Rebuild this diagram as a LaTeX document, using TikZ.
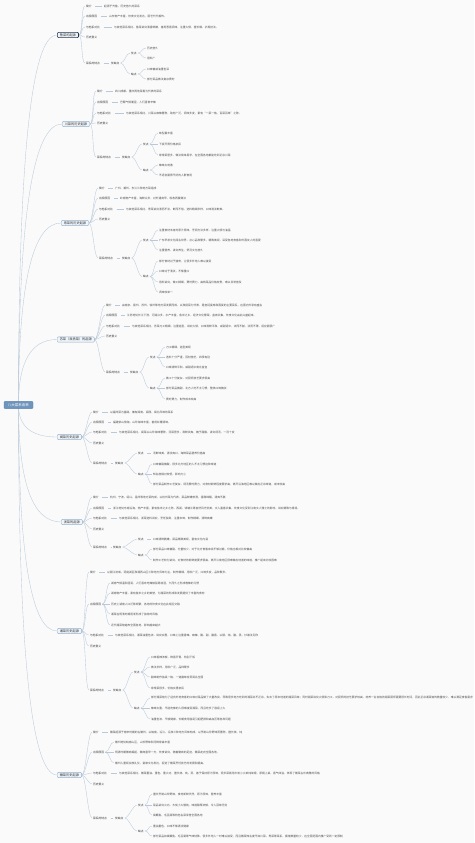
\documentclass[tikz,border=0pt]{standalone}
\usepackage{fontspec}
\setmainfont{Noto Sans CJK SC}
\usetikzlibrary{calc}
\definecolor{bgc}{HTML}{FAFAFA}
\definecolor{lnc}{HTML}{B9C9D9}
\definecolor{rootf}{HTML}{6F95BD}
\definecolor{rootb}{HTML}{5C84AE}
\definecolor{brf}{HTML}{EFF4F9}
\definecolor{brb}{HTML}{93AFCB}
\definecolor{selb}{HTML}{23384D}
\definecolor{txtd}{HTML}{333333}
\definecolor{txtl}{HTML}{4D4D4D}
\pgfdeclarelayer{bglayer}
\pgfdeclarelayer{lnlayer}
\pgfsetlayers{bglayer,lnlayer,main}
\tikzset{
  rootnode/.style={draw=rootb, fill=rootf, text=white, rounded corners=1pt, line width=0.4pt,
    font=\fontsize{3.5pt}{4pt}\selectfont, inner xsep=4pt, inner ysep=2pt},
  brnode/.style={draw=brb, fill=brf, text=txtd, rounded corners=1pt, line width=0.35pt,
    font=\fontsize{3.2pt}{3.6pt}\selectfont, inner xsep=2.6pt, inner ysep=1.1pt, anchor=west},
  lbnode/.style={text=txtd, font=\fontsize{2.75pt}{3pt}\selectfont, inner xsep=1pt, inner ysep=0.6pt, anchor=west},
  txnode/.style={lbnode, text=txtl},
  conn/.style={draw=lnc, line width=0.35pt}
}
\newcommand\mmlb[4]{\node[lbnode] (#1) at (#2,#3) {#4};}
\newcommand\mmtx[4]{\node[txnode] (#1) at (#2,#3) {#4};}
\newcommand\mmkid[2]{\draw[conn] (#1.east) to[out=0,in=180,distance=4pt] (#2.west);}
\newcommand\mmstr[2]{\draw[conn, shorten <=2.5pt, shorten >=0.8pt] (#1.east) -- (#2.west);}
\newcommand\mmroot[1]{\coordinate (mmk) at (R.center|-#1.west);
  \draw[conn] (R.center) .. controls ($(R.center)!0.667!(mmk)$) and ($(#1.west)!0.667!(mmk)$) .. (#1.west);}
\begin{document}
\begin{tikzpicture}[x=1pt,y=-1pt]
\begin{pgfonlayer}{bglayer}
\fill[bgc] (0,0) rectangle (474,843);
\end{pgfonlayer}
\useasboundingbox (0,0) rectangle (474,843);

\node[rootnode] (R) at (18.5,405) {八大菜系由来};

% ---------- B1
\node[brnode, draw=selb, line width=0.6pt] (B1) at (57,35) {鲁菜的起源};
\mmlb{B1a}{85}{6}{简介}      \mmtx{B1at}{103}{6}{起源于齐鲁，历史悠久的菜系}
\mmlb{B1b}{85}{16}{出现原因}  \mmtx{B1bt}{108}{16}{山东物产丰富，饮食文化发达，厨艺代代相传。}
\mmlb{B1c}{85}{27}{与他系对比} \mmtx{B1ct}{113}{27}{与其他菜系相比，鲁菜讲究清香鲜嫩，善用葱香调味，注重火候，擅长爆、扒等技法。}
\mmlb{B1d}{85}{37}{历史意义}
\mmlb{B1e}{85}{63}{菜系的特点} \mmlb{B1f}{110}{63}{优缺点}
\mmlb{B1g}{130}{53}{优点} \mmlb{B1h}{130}{74}{缺点}
\mmtx{B1g1}{146}{48}{历史悠久} \mmtx{B1g2}{146}{58}{用料广}
\mmtx{B1h1}{146}{69}{口味偏咸油重色深} \mmtx{B1h2}{146}{79}{部分菜品做法复杂费时}

% ---------- B2
\node[brnode] (B2) at (62,124) {川菜的历史起源};
\mmlb{B2a}{96}{91}{简介}      \mmtx{B2at}{114}{91}{四川成都、重庆两地菜肴为代表的菜系}
\mmlb{B2b}{96}{102}{出现原因}  \mmtx{B2bt}{119}{102}{巴蜀气候潮湿，人们喜食辛辣}
\mmlb{B2c}{96}{113}{与他系对比} \mmtx{B2ct}{125}{113}{与其他菜系相比，川菜以麻辣著称，取材广泛，调味多变，素有“一菜一格，百菜百味”之称。}
\mmlb{B2d}{96}{123}{历史意义}
\mmlb{B2e}{96}{157}{菜系的特点} \mmlb{B2f}{121}{157}{优缺点}
\mmlb{B2g}{142}{144}{优点} \mmlb{B2h}{142}{170}{缺点}
\mmtx{B2g1}{158}{133}{味型最丰富} \mmtx{B2g2}{158}{144}{下饭开胃价格亲民}
\mmtx{B2g3}{158}{155}{家常菜居多，做法简单易学，在全国各地都能吃到正宗川菜}
\mmtx{B2h1}{158}{165}{辣味太刺激} \mmtx{B2h2}{158}{175}{不适合肠胃不好的人群食用}

% ---------- B3
\node[brnode] (B3) at (61,223) {粤菜的历史起源};
\mmlb{B3a}{98}{188}{简介}      \mmtx{B3at}{114}{188}{广州、潮州、东江三种地方菜组成}
\mmlb{B3b}{98}{198}{出现原因}  \mmtx{B3bt}{119}{198}{岭南物产丰富，海鲜众多，对外通商早，吸收西餐做法}
\mmlb{B3c}{98}{209}{与他系对比} \mmtx{B3ct}{125}{209}{与其他菜系相比，粤菜讲究清而不淡，鲜而不俗，选料精细多样，口味清淡鲜美。}
\mmlb{B3d}{98}{219}{历史意义}
\mmlb{B3e}{98}{258}{菜系的特点} \mmlb{B3f}{121}{258}{优缺点}
\mmlb{B3g}{142}{240}{优点} \mmlb{B3h}{142}{276.5}{缺点}
\mmtx{B3g1}{158}{230}{注重食材本身的原汁原味，烹调方法多样，注重火候与油温}
\mmtx{B3g2}{158}{240}{广东早茶文化闻名世界，点心品种繁多，精致美观，深受各地食客和外国友人的喜爱}
\mmtx{B3g3}{158}{250}{注重营养，讲究养生，煲汤文化悠久}
\mmtx{B3h1}{158}{261}{部分食材过于猎奇，让很多外地人难以接受}
\mmtx{B3h2}{158}{271}{口味过于清淡，不够重口}
\mmtx{B3h3}{158}{282}{用料讲究，做工精细，费时费力，高档菜品价格较贵，难以日常普及}
\mmtx{B3h4}{158}{292}{调味较单一}

% ---------- B4
\node[brnode] (B4) at (57,339.5) {苏菜（淮扬菜）的起源};
\mmlb{B4a}{105}{305}{简介}      \mmtx{B4at}{121}{305}{由南京、扬州、苏州、徐州等地方菜发展而成，以淮扬菜为代表，是宫廷宴席和国宴的主要菜系，在国内外享有盛名}
\mmlb{B4b}{105}{315}{出现原因}  \mmtx{B4bt}{126}{315}{江苏地处长江下游，河湖众多，水产丰富，鱼米之乡，经济文化繁荣，盐商云集，饮食文化由此兴盛起来。}
\mmlb{B4c}{105}{326}{与他系对比} \mmtx{B4ct}{131}{326}{与其他菜系相比，苏菜刀工精细，注重造型，讲究火候，口味清鲜平和，咸甜适中，浓而不腻，淡而不薄，适应面很广}
\mmlb{B4d}{105}{336}{历史意义}
\mmlb{B4e}{105}{372}{菜系的特点} \mmlb{B4f}{129}{372}{优缺点}
\mmlb{B4g}{149}{357}{优点} \mmlb{B4h}{149}{388}{缺点}
\mmtx{B4g1}{165}{347}{刀工精细，造型美观}
\mmtx{B4g2}{165}{357}{选料十分严谨，因材施艺，四季有别}
\mmtx{B4g3}{165}{367}{口味清鲜平和，咸甜适中南北皆宜}
\mmtx{B4h1}{165}{378}{做工十分复杂，对厨师技艺要求很高}
\mmtx{B4h2}{165}{388}{部分菜品偏甜，北方人吃不太习惯，整体口味偏淡}
\mmtx{B4h3}{165}{399}{费时费力，制作成本较高}

% ---------- B5
\node[brnode] (B5) at (57,437) {闽菜历史起源};
\mmlb{B5a}{92}{412}{简介}      \mmtx{B5at}{109}{412}{以福州菜为基础，兼有闽南、闽西、闽北风味的菜系}
\mmlb{B5b}{92}{422}{出现原因}  \mmtx{B5bt}{112}{422}{福建依山傍海，山珍海味丰富，善用红糟调味。}
\mmlb{B5c}{92}{432}{与他系对比} \mmtx{B5ct}{118}{432}{与其他菜系相比，闽菜以山珍海味著称，汤菜居多，清鲜淡爽，偏于甜酸，讲究调汤，一汤十变}
\mmlb{B5d}{92}{443}{历史意义}
\mmlb{B5e}{92}{463}{菜系的特点} \mmlb{B5f}{114}{463}{优缺点}
\mmlb{B5g}{137}{453}{优点} \mmlb{B5h}{137}{474}{缺点}
\mmtx{B5g1}{152}{453}{汤鲜味美，清淡爽口，海鲜菜品营养价值高}
\mmtx{B5h1}{152}{464}{口味偏甜偏酸，很多北方地区的人不太习惯这种味道}
\mmtx{B5h2}{152}{474}{知名度相对较低，影响力小}
\mmtx{B5h3}{152}{484}{部分菜品制作工艺复杂，调汤费时费力，对食材新鲜程度要求高，离开沿海地区难以做出正宗味道，成本较高}

% ---------- B6
\node[brnode] (B6) at (61,522) {浙菜的起源};
\mmlb{B6a}{92}{497}{简介}      \mmtx{B6at}{109}{497}{杭州、宁波、绍兴、温州等地方菜构成，以杭州菜为代表，菜品鲜嫩软滑，香醇绵糯，清爽不腻}
\mmlb{B6b}{92}{508}{出现原因}  \mmtx{B6bt}{112}{508}{浙江地处东南沿海，物产丰富，素有鱼米之乡之称，西湖、钱塘江等自然风光优美，文人墨客云集，饮食文化受到江南文人雅士的影响，讲究精致与意境。}
\mmlb{B6c}{92}{518}{与他系对比} \mmtx{B6ct}{118}{518}{与其他菜系相比，浙菜选料讲究，烹饪独到，注重本味，制作精细，清鲜爽嫩}
\mmlb{B6d}{92}{529}{历史意义}
\mmlb{B6e}{92}{547}{菜系的特点} \mmlb{B6f}{112}{547}{优缺点}
\mmlb{B6g}{137}{539}{优点} \mmlb{B6h}{137}{555}{缺点}
\mmtx{B6g1}{152}{539}{口味清鲜脆嫩，菜品精致美观，富有文化内涵}
\mmtx{B6h1}{152}{549}{部分菜品口味偏甜，分量较少，对于北方食客来说不够过瘾，价格也相对比较偏高}
\mmtx{B6h2}{152}{560}{制作工艺较为讲究，对食材的新鲜度要求很高，离开江南地区很难做出地道的味道，推广起来比较困难}

% ---------- B7
\node[brnode] (B7) at (57,631) {湘菜历史起源};
\mmlb{B7a}{89}{572}{简介}      \mmtx{B7at}{106}{572}{以湘江流域、洞庭湖区和湘西山区三种地方风味为主，制作精细，用料广泛，口味多变，品种繁多。}
\mmlb{B7b}{89}{604}{出现原因}
\mmtx{B7b1}{110}{583}{湖南气候温和湿润，人们喜欢吃辣椒驱寒祛湿，久而久之形成嗜辣的习惯}
\mmtx{B7b2}{110}{593}{湖南物产丰富，素有鱼米之乡的美誉，为湘菜的形成和发展提供了丰富的食材}
\mmtx{B7b3}{110}{604}{历史上湖南人口迁移频繁，各地的饮食文化在此相互交融}
\mmtx{B7b4}{110}{614}{湘菜在明清时期逐渐形成了独特的风格}
\mmtx{B7b5}{110}{625}{近代湘菜馆遍布全国各地，影响越来越大}
\mmlb{B7c}{89}{635}{与他系对比} \mmtx{B7ct}{114}{635}{与其他菜系相比，湘菜油重色浓，讲究实惠，口味上注重香辣、麻辣、酸、甜、腊香，以煨、炖、腊、蒸、炒诸法见称}
\mmlb{B7d}{89}{646}{历史意义}
\mmlb{B7e}{89}{690}{菜系的特点} \mmlb{B7f}{112}{690}{优缺点}
\mmlb{B7g}{133}{672}{优点} \mmlb{B7h}{133}{708}{缺点}
\mmtx{B7g1}{150}{657}{口味香辣浓郁，鲜香开胃，特别下饭}
\mmtx{B7g2}{150}{667}{做法多样，用料广泛，品种繁多}
\mmtx{B7g3}{150}{677}{腊味制作独具一格，一道腊味合蒸闻名全国}
\mmtx{B7g4}{150}{688}{家常菜很多，价格实惠亲民}
\mmtx{B7h1}{150}{698}{部分湘菜馆为了迎合外地食客的口味对菜品做了大量改良，导致很多地方吃到的湘菜并不正宗，失去了原本地道的湘菜风味；同时湘菜讲究火候和刀工，对厨师的技艺要求较高，培养一名合格的湘菜厨师需要很长时间，因此正宗湘菜馆的数量较少，难以满足食客需求}
\mmtx{B7h2}{150}{708}{辣味太重，不能吃辣的人很难接受湘菜，而且吃多了容易上火}
\mmtx{B7h3}{150}{719}{油重色浓，不够健康，长期食用容易引起肥胖和高血压等各种问题}

% ---------- B8
\node[brnode] (B8) at (57,775) {徽菜历史起源};
\mmlb{B8a}{92}{732}{简介}      \mmtx{B8at}{109}{732}{徽菜起源于南宋时期的古徽州，以皖南、沿江、沿淮三种地方风味构成，以烹制山珍野味而著称，擅长烧、炖}
\mmlb{B8b}{92}{752}{出现原因}
\mmtx{B8b1}{114}{742}{徽州地处皖南山区，山珍野味和河鲜家禽丰富}
\mmtx{B8b2}{114}{752}{明清时期徽商崛起，徽商富甲一方，饮食讲究，随着徽商的足迹，徽菜走向全国各地。}
\mmtx{B8b3}{114}{763}{徽州人重视宗族礼仪，宴席文化发达，促进了徽菜烹饪技艺的发展和提高。}
\mmlb{B8c}{92}{773}{与他系对比} \mmtx{B8ct}{118}{773}{与其他菜系相比，徽菜重油、重色、重火功，擅长烧、炖、蒸，善于保持原汁原味，很多菜肴用木炭小火单炖单煨，原锅上桌，香气四溢，体现了徽菜古朴典雅的风格}
\mmlb{B8d}{92}{784}{历史意义}
\mmlb{B8e}{92}{818}{菜系的特点} \mmlb{B8f}{114}{818}{优缺点}
\mmlb{B8g}{137}{805}{优点} \mmlb{B8h}{137}{831}{缺点}
\mmtx{B8g1}{152}{794}{擅长烹制山珍野味，食材新鲜天然，原汁原味，营养丰富}
\mmtx{B8g2}{152}{805}{菜品讲究火功，木炭小火慢炖，味道醇厚浓郁，令人回味无穷}
\mmtx{B8g3}{152}{815}{臭鳜鱼、毛豆腐等特色名菜享誉全国各地}
\mmtx{B8h1}{152}{826}{重油重色，口味不够清淡健康}
\mmtx{B8h2}{152}{836}{部分菜品如臭鳜鱼、毛豆腐等气味特殊，很多外地人一时难以接受，而且徽菜知名度不如川菜、粤菜等菜系，餐馆数量较少，在全国范围内推广受到一定限制}

% ---------- connectors
\begin{pgfonlayer}{lnlayer}
\foreach \b in {B1,B2,B3,B4,B5,B6,B7,B8}{\mmroot{\b}}
\foreach \b in {B1,B2,B3,B4,B5,B6,B7,B8}{
  \foreach \c in {a,b,c,d,e}{\mmkid{\b}{\b\c}}
  \mmstr{\b e}{\b f}
  \mmkid{\b f}{\b g}\mmkid{\b f}{\b h}
}
\foreach \b in {B1,B2,B3,B4,B5,B6,B8}{\mmstr{\b a}{\b at}}
\mmstr{B7a}{B7at}
\foreach \b in {B1,B2,B3,B4,B5,B6}{\mmstr{\b b}{\b bt}}
\foreach \b in {B1,B2,B3,B4,B5,B6,B7,B8}{\mmstr{\b c}{\b ct}}
\foreach \i in {1,...,5}{\mmkid{B7b}{B7b\i}}
\foreach \i in {1,2,3}{\mmkid{B8b}{B8b\i}}
% pros / cons items
\foreach \i in {1,2}{\mmkid{B1g}{B1g\i}\mmkid{B1h}{B1h\i}}
\foreach \i in {1,2,3}{\mmkid{B2g}{B2g\i}}
\foreach \i in {1,2}{\mmkid{B2h}{B2h\i}}
\foreach \i in {1,2,3}{\mmkid{B3g}{B3g\i}}
\foreach \i in {1,...,4}{\mmkid{B3h}{B3h\i}}
\foreach \i in {1,2,3}{\mmkid{B4g}{B4g\i}\mmkid{B4h}{B4h\i}}
\mmstr{B5g}{B5g1}
\foreach \i in {1,2,3}{\mmkid{B5h}{B5h\i}}
\mmstr{B6g}{B6g1}
\foreach \i in {1,2}{\mmkid{B6h}{B6h\i}}
\foreach \i in {1,...,4}{\mmkid{B7g}{B7g\i}}
\foreach \i in {1,2,3}{\mmkid{B7h}{B7h\i}}
\foreach \i in {1,2,3}{\mmkid{B8g}{B8g\i}}
\foreach \i in {1,2}{\mmkid{B8h}{B8h\i}}
\end{pgfonlayer}
\end{tikzpicture}
\end{document}
